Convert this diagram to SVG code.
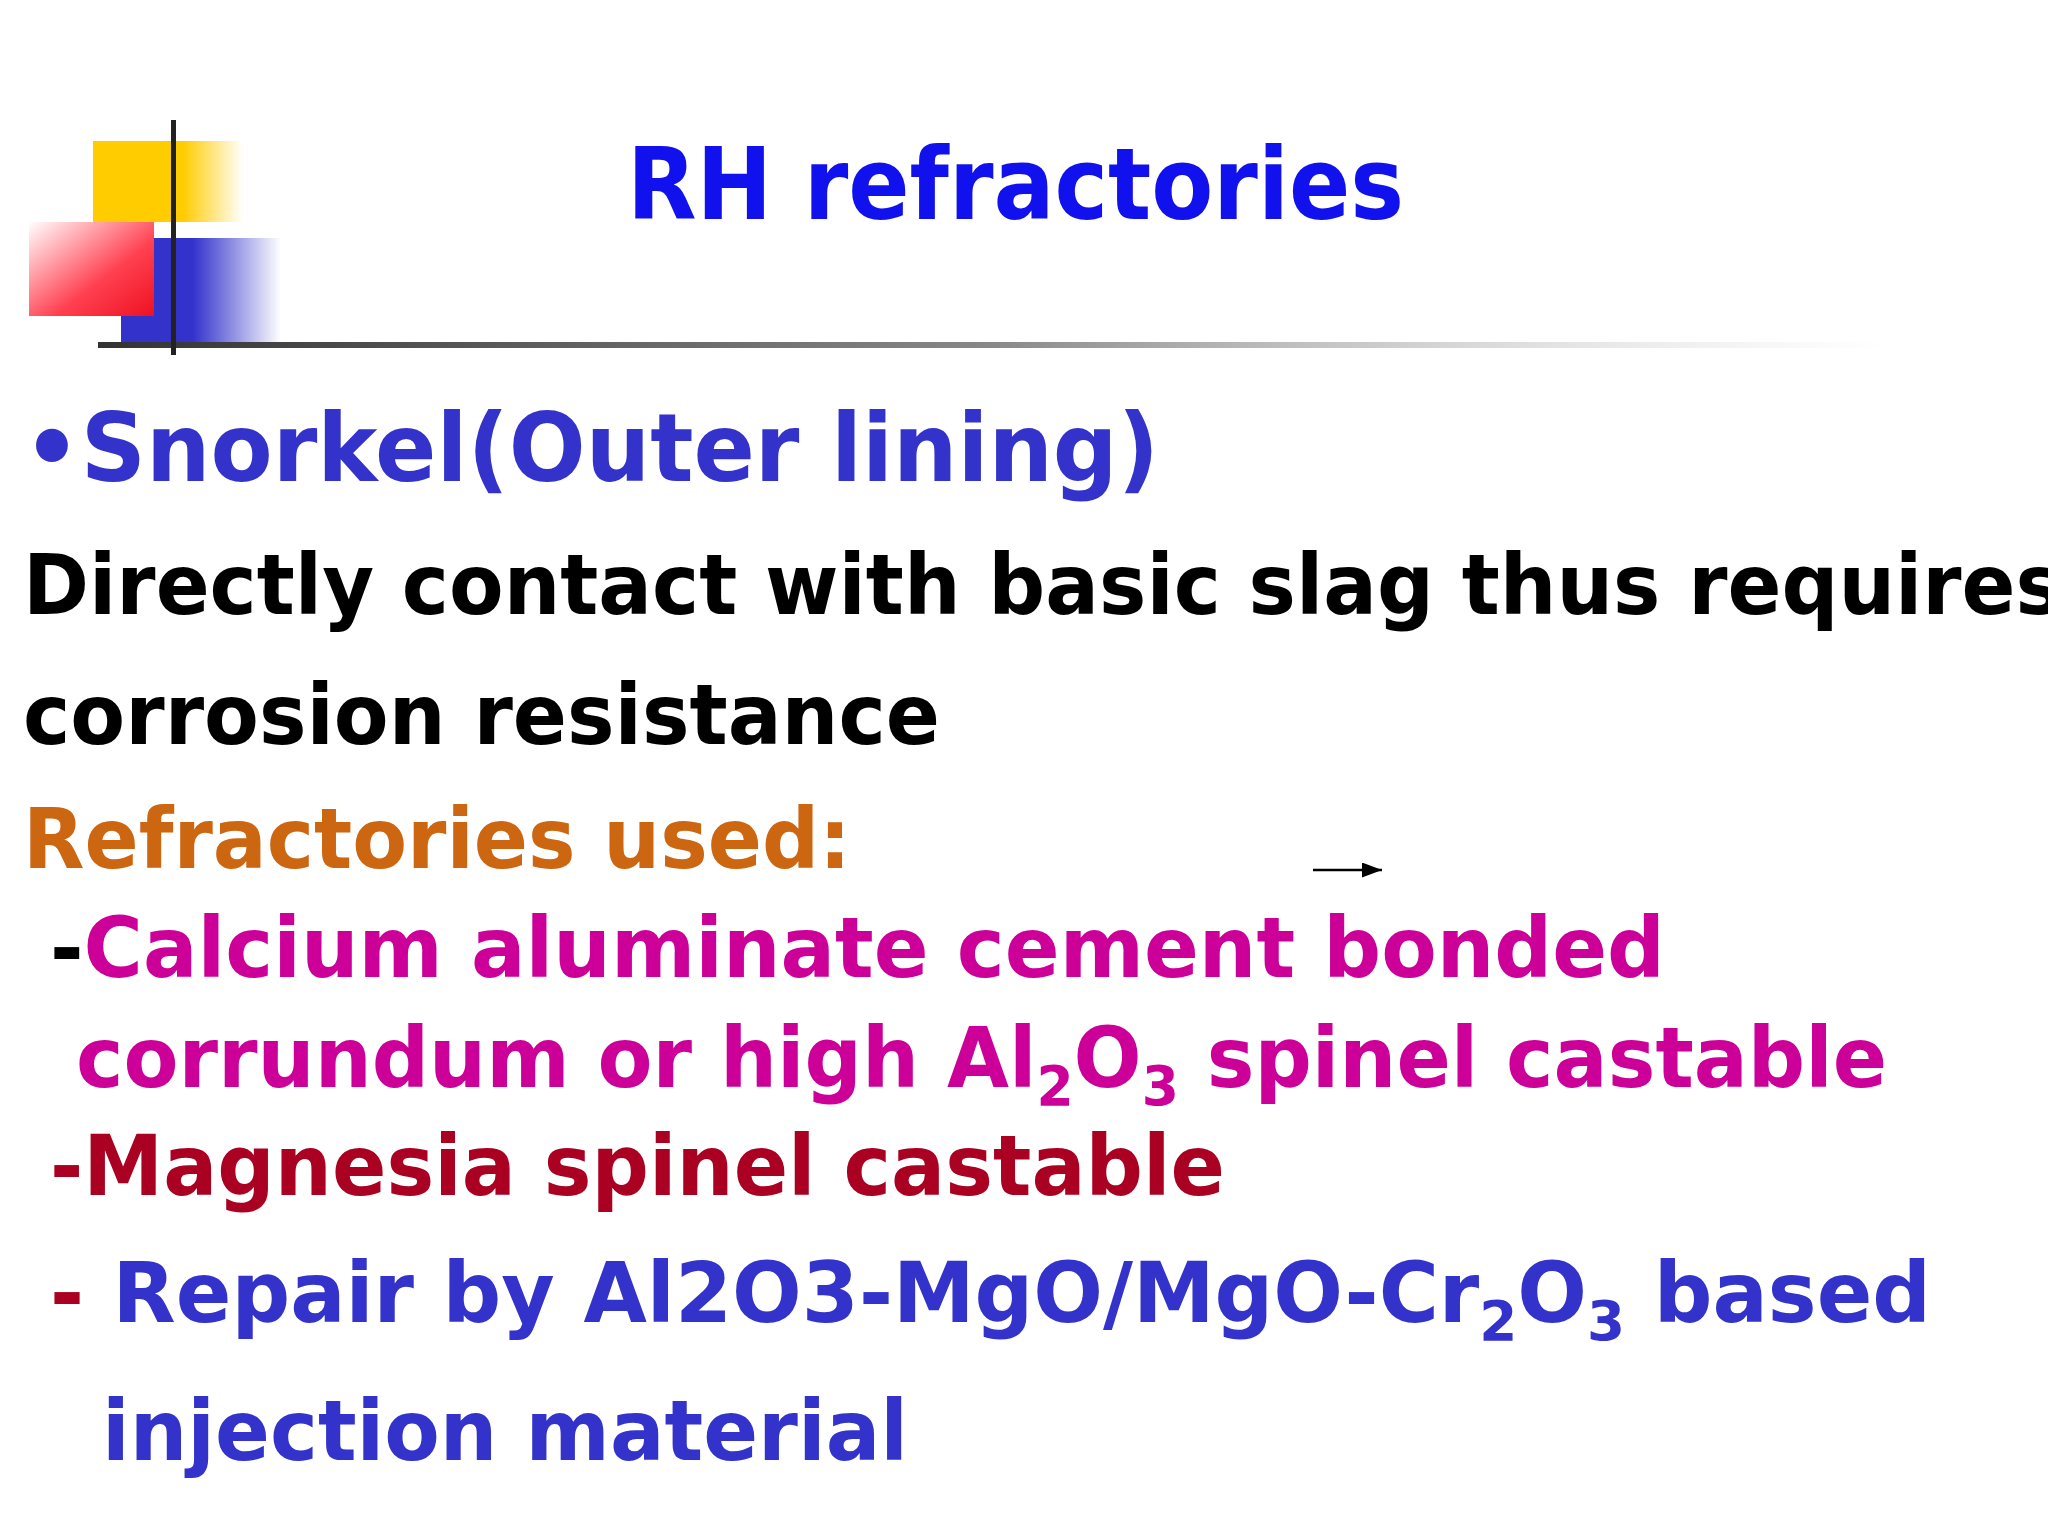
<svg xmlns="http://www.w3.org/2000/svg" width="2048" height="1536" viewBox="0 0 2048 1536">
<defs>
<linearGradient id="gr" x1="0" y1="0" x2="1" y2="1"><stop offset="0" stop-color="#fff"/><stop offset="0.6" stop-color="#ff4050"/><stop offset="1" stop-color="#ee1122"/></linearGradient>
<linearGradient id="gb" x1="0" x2="1"><stop offset="0" stop-color="#3333cc"/><stop offset="0.45" stop-color="#3333cc"/><stop offset="1" stop-color="#3333cc" stop-opacity="0"/></linearGradient>
<linearGradient id="gy" x1="0" x2="1"><stop offset="0" stop-color="#ffcc00"/><stop offset="0.6" stop-color="#ffcc00"/><stop offset="1" stop-color="#ffcc00" stop-opacity="0"/></linearGradient>
<linearGradient id="gl" x1="0" x2="1"><stop offset="0" stop-color="#333"/><stop offset="0.5" stop-color="#888"/><stop offset="1" stop-color="#ccc" stop-opacity="0"/></linearGradient>
<marker id="ah" markerWidth="8" markerHeight="6" refX="8" refY="3" orient="auto"><path d="M0,0L8,3L0,6z" fill="#000"/></marker>
</defs>
<style>
text{font-family:"DejaVu Sans",Verdana,sans-serif;font-weight:bold}
.b{font-size:84px}
.sub{font-size:56px}
</style>
<rect width="2048" height="1536" fill="#fff"/>
<g id="deco">
<rect x="93" y="141" width="150" height="81" fill="url(#gy)"/>
<rect x="121" y="238" width="160" height="104" fill="url(#gb)"/>
<rect x="29" y="222" width="125" height="94" fill="url(#gr)"/>
<rect x="98" y="342" width="1790" height="6" fill="url(#gl)"/>
<rect x="171" y="120" width="5" height="235" fill="#222"/>
</g>
<text x="627" y="219" font-size="100" fill="#1111ee" textLength="777" lengthAdjust="spacingAndGlyphs">RH refractories</text>
<text x="23" y="481" font-size="94" fill="#3333cc" textLength="1136" lengthAdjust="spacingAndGlyphs">•Snorkel(Outer lining)</text>
<text class="b" x="23" y="614" fill="#000" textLength="2040" lengthAdjust="spacingAndGlyphs">Directly contact with basic slag thus requires</text>
<text class="b" x="23" y="744" fill="#000" textLength="917" lengthAdjust="spacingAndGlyphs">corrosion resistance</text>
<text class="b" x="23" y="868" fill="#cc6611" textLength="828" lengthAdjust="spacingAndGlyphs">Refractories used:</text>
<g id="connectors"><line x1="1313" y1="870" x2="1382" y2="870" stroke="#000" stroke-width="2.5" marker-end="url(#ah)"/></g>
<text class="b" x="50" y="977" fill="#cc0099" textLength="1615" lengthAdjust="spacingAndGlyphs"><tspan fill="#000">-</tspan>Calcium aluminate cement bonded</text>
<text class="b" x="76" y="1087" fill="#cc0099" textLength="1811" lengthAdjust="spacingAndGlyphs">corrundum or high Al<tspan class="sub" dy="18">2</tspan><tspan dy="-18">O</tspan><tspan class="sub" dy="18">3</tspan><tspan dy="-18"> spinel castable</tspan></text>
<text class="b" x="50" y="1195" fill="#aa0022" textLength="1175" lengthAdjust="spacingAndGlyphs">-Magnesia spinel castable</text>
<text class="b" x="50" y="1322" fill="#3333cc" textLength="1881" lengthAdjust="spacingAndGlyphs"><tspan fill="#aa0022">-</tspan> Repair by Al2O3-MgO/MgO-Cr<tspan class="sub" dy="18">2</tspan><tspan dy="-18">O</tspan><tspan class="sub" dy="18">3</tspan><tspan dy="-18"> based</tspan></text>
<text class="b" x="102" y="1460" fill="#3333cc" textLength="806" lengthAdjust="spacingAndGlyphs">injection material</text>
</svg>
